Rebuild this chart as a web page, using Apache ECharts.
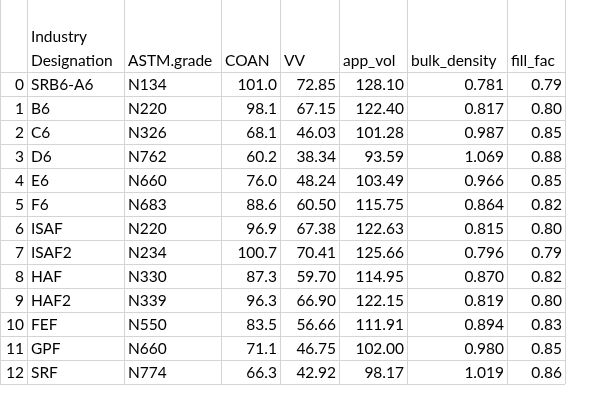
<!DOCTYPE html>
<html><head><meta charset="utf-8">
<script src="https://cdn.jsdelivr.net/npm/echarts@6/dist/echarts.min.js"></script>
<style>html,body{margin:0;padding:0;background:#fff}#c{width:598px;height:403px}</style>
</head><body><div id="c"></div>
<script>
const headers = ["", "Industry\nDesignation", "ASTM.grade", "COAN", "VV", "app_vol", "bulk_density", "fill_fac"];
const index = [0,1,2,3,4,5,6,7,8,9,10,11,12];
const designation = ["SRB6-A6","B6","C6","D6","E6","F6","ISAF","ISAF2","HAF","HAF2","FEF","GPF","SRF"];
const astmGrade = ["N134","N220","N326","N762","N660","N683","N220","N234","N330","N339","N550","N660","N774"];
const coan = ["101.0","98.1","68.1","60.2","76.0","88.6","96.9","100.7","87.3","96.3","83.5","71.1","66.3"];
const vv = ["72.85","67.15","46.03","38.34","48.24","60.50","67.38","70.41","59.70","66.90","56.66","46.75","42.92"];
const appVol = ["128.10","122.40","101.28","93.59","103.49","115.75","122.63","125.66","114.95","122.15","111.91","102.00","98.17"];
const bulkDensity = ["0.781","0.817","0.987","1.069","0.966","0.864","0.815","0.796","0.870","0.819","0.894","0.980","1.019"];
const fillFac = ["0.79","0.80","0.85","0.88","0.85","0.82","0.80","0.79","0.82","0.80","0.83","0.85","0.86"];

const columns = [index.map(String), designation, astmGrade, coan, vv, appVol, bulkDensity, fillFac];
const colX = [0, 27, 124, 221, 280, 339, 407, 507, 565];
const align = ["right","left","left","right","right","right","right","right"];
const headerBottom = 72, rowH = 24, lineColor = "#d4d4d4";
const font = "15.5px Lato, 'Open Sans', sans-serif";
const els = [];
const nRows = index.length;
const tableBottom = headerBottom + nRows * rowH;
for (let i = 0; i < colX.length; i++) {
  els.push({type:'line', shape:{x1:colX[i]+0.5,y1:0,x2:colX[i]+0.5,y2:tableBottom}, style:{stroke:lineColor,lineWidth:1}});
}
for (let r = 0; r <= nRows; r++) {
  const y = headerBottom + r*rowH + 0.5;
  els.push({type:'line', shape:{x1:0,y1:y,x2:colX[colX.length-1],y2:y}, style:{stroke:lineColor,lineWidth:1}});
}
headers.forEach((h, c) => {
  if (!h) return;
  const lines = h.split("\n");
  lines.forEach((t, k) => {
    const y = headerBottom - 11 - (lines.length - 1 - k) * 24;
    els.push({type:'text', style:{text:t, x:colX[c]+4, y:y, font:font, fill:'#000', align:'left', verticalAlign:'middle'}});
  });
});
columns.forEach((col, c) => {
  col.forEach((v, r) => {
    const y = headerBottom + r*rowH + rowH/2 + 1;
    const x = align[c] === 'right' ? colX[c+1] - 3 : colX[c] + 4;
    els.push({type:'text', style:{text:v, x:x, y:y, font:font, fill:'#000', align:align[c], verticalAlign:'middle'}});
  });
});
const chart = echarts.init(document.getElementById('c'));
chart.setOption({backgroundColor:'#fff', graphic:{elements:els}});
</script></body></html>
